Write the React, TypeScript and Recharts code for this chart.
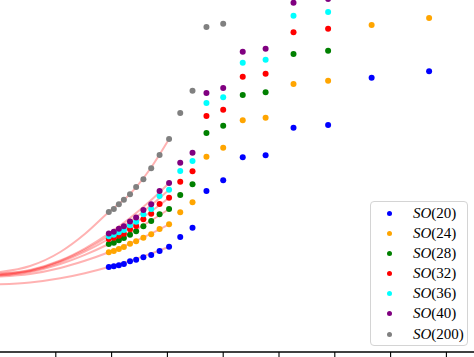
import React from 'react';
import { ComposedChart, Scatter, Line, XAxis, YAxis, Legend } from 'recharts';

// x positions of the measured points (shared by all series)
const xPoints = [1.95, 2.04, 2.13, 2.22, 2.33, 2.44, 2.57, 2.71, 2.86, 3.03, 3.23, 3.45, 3.70, 4.00, 4.35, 4.76, 5.26, 5.88, 6.66, 7.69];

const so20 = [0.85, 0.857, 0.867, 0.88, 0.907, 0.923, 0.947, 0.97, 1.01, 1.053, 1.15, 1.243, 1.61, 1.717, 1.947, 1.967, 2.243, 2.27, 2.743, 2.807];
const so24 = [0.997, 1.01, 1.03, 1.05, 1.083, 1.107, 1.143, 1.177, 1.23, 1.277, 1.397, 1.497, 1.953, 2.043, 2.317, 2.343, 2.68, 2.713, 3.27, 3.34];
const so28 = [1.08, 1.093, 1.117, 1.14, 1.173, 1.207, 1.257, 1.31, 1.377, 1.43, 1.57, 1.677, 2.19, 2.263, 2.57, 2.597, 2.98, 3.013];
const so32 = [1.13, 1.143, 1.163, 1.183, 1.227, 1.26, 1.327, 1.383, 1.48, 1.543, 1.703, 1.807, 2.36, 2.423, 2.753, 2.783, 3.197, 3.233];
const so36 = [1.157, 1.172, 1.197, 1.22, 1.267, 1.303, 1.377, 1.43, 1.56, 1.623, 1.81, 1.91, 2.49, 2.547, 2.893, 2.923, 3.363, 3.40];
const so40 = [1.185, 1.203, 1.232, 1.258, 1.305, 1.345, 1.42, 1.478, 1.61, 1.69, 1.893, 1.992, 2.59, 2.64, 3.003, 3.033, 3.493, 3.53];
const so200 = [1.40, 1.43, 1.477, 1.523, 1.577, 1.65, 1.728, 1.837, 1.97, 2.13, 2.39, 2.613, 3.25, 3.283];

// fit curves
const fitX = [0, 0.54, 1.08, 1.52, 1.95, 2.33, 2.69, 3.03];
const fit20 = [0.677, 0.695, 0.737, 0.788, 0.85, 0.913, 0.981, 1.053];
const fit24 = [0.755, 0.78, 0.84, 0.912, 0.997, 1.085, 1.179, 1.277];
const fit28 = [0.765, 0.80, 0.879, 0.971, 1.08, 1.19, 1.308, 1.43];
const fit32 = [0.77, 0.808, 0.897, 1.003, 1.13, 1.259, 1.398, 1.543];
const fit36 = [0.777, 0.814, 0.907, 1.021, 1.16, 1.304, 1.459, 1.623];
const fit40 = [0.785, 0.821, 0.915, 1.035, 1.183, 1.339, 1.509, 1.69];
const fit200 = [0.80, 0.86, 1.00, 1.18, 1.40, 1.58, 1.83, 2.13];

const xTicks = [0, 1, 2, 3, 4, 5, 6, 7, 8];

const groups = ['20', '24', '28', '32', '36', '40', '200'];
const colors = ['#0000ff', '#ffa500', '#008000', '#ff0000', '#00ffff', '#800080', '#808080'];
const values = [so20, so24, so28, so32, so36, so40, so200];
const fits = [fit20, fit24, fit28, fit32, fit36, fit40, fit200];

const series = groups.map((g, i) => ({
  name: g,
  color: colors[i],
  data: values[i].map((y, j) => ({ x: xPoints[j], y })),
  fit: fits[i].map((y, j) => ({ x: fitX[j], y })),
}));

const W = 474;
const H = 357;
const X_MAX = 474 / 55.8;

const LegendBox = () => (
  <div
    style={{
      boxSizing: 'border-box',
      width: 98,
      height: 145,
      border: '1px solid #d4d4d4',
      borderRadius: 4,
      background: 'rgba(255,255,255,0.85)',
      paddingTop: 1,
    }}
  >
    {series.map((s) => (
      <div key={s.name} style={{ position: 'relative', height: 20.1, lineHeight: '20px' }}>
        <span
          style={{
            position: 'absolute',
            left: 16,
            top: 8,
            width: 5,
            height: 5,
            borderRadius: '50%',
            background: s.color,
          }}
        />
        <span
          style={{
            position: 'absolute',
            left: 42,
            top: 0,
            fontFamily: '"Liberation Serif", serif',
            fontSize: 15,
            color: '#000',
            whiteSpace: 'nowrap',
          }}
        >
          <i>SO</i>({s.name})
        </span>
      </div>
    ))}
  </div>
);

const Dot = (color: string) => (props: any) => {
  if (props.cx == null || props.cy == null) return <g />;
  return <circle cx={props.cx} cy={props.cy} r={3} fill={color} />;
};

export default function App() {
  return (
    <div style={{ position: 'absolute', left: 0, top: 0, width: W, height: H, overflow: 'hidden', background: '#fff' }}>
      <ComposedChart width={W} height={H} margin={{ top: 0, right: 0, bottom: 0, left: 0 }}>
        <XAxis
          type="number"
          dataKey="x"
          domain={[0, X_MAX]}
          ticks={xTicks}
          allowDataOverflow
          height={5}
          tickSize={6}
          tick={() => <g />}
          axisLine={{ stroke: '#000', strokeWidth: 1.3 }}
          tickLine={{ stroke: '#000', strokeWidth: 1.1 }}
        />
        <YAxis
          type="number"
          dataKey="y"
          domain={[0, 3.52]}
          allowDataOverflow
          width={0}
          tick={false}
          tickLine={false}
          axisLine={{ stroke: '#dedede', strokeWidth: 3 }}
        />
        {series.map((s) => (
          <Line
            key={'fit' + s.name}
            data={s.fit}
            dataKey="y"
            type="monotone"
            stroke="#ff0000"
            strokeOpacity={0.3}
            strokeWidth={2}
            dot={false}
            activeDot={false}
            isAnimationActive={false}
            legendType="none"
          />
        ))}
        {series.map((s) => (
          <Scatter
            key={'pts' + s.name}
            name={s.name}
            data={s.data}
            fill={s.color}
            shape={Dot(s.color)}
            isAnimationActive={false}
          />
        ))}
        <Legend
          layout="horizontal"
          verticalAlign="middle"
          align="center"
          wrapperStyle={{ position: 'absolute', left: 370, top: 201, width: 98, height: 145 }}
          content={() => <LegendBox />}
        />
      </ComposedChart>
    </div>
  );
}
